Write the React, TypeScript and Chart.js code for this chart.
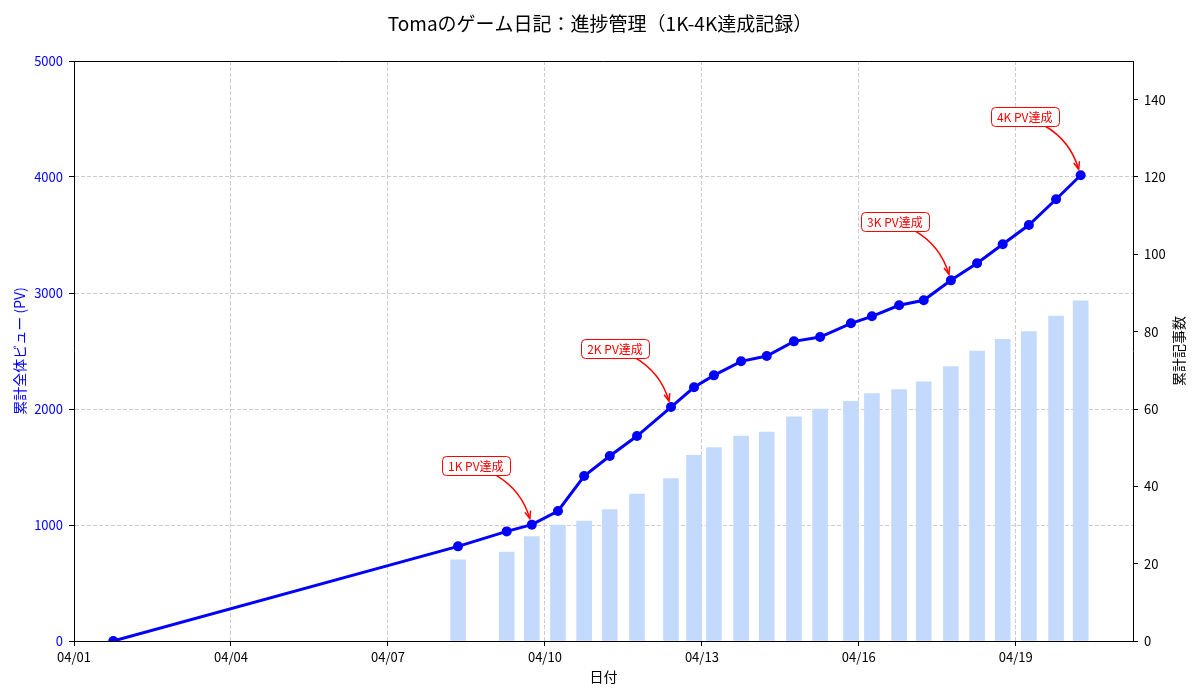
import { useEffect, useRef } from 'react';
import { Chart, registerables } from 'chart.js';

Chart.register(...registerables);

const FONT = "'Noto Sans CJK JP', sans-serif";

// 04/01 00:00 からの経過日数
const recordDays = [0.75, 7.34, 8.27, 8.75, 9.25, 9.75, 10.24, 10.76, 11.41, 11.85, 12.23, 12.75, 13.24, 13.76, 14.26, 14.85, 15.25, 15.77, 16.24, 16.76, 17.26, 17.75, 18.25, 18.77, 19.24];
const totalViews = [0, 816, 945, 1003, 1121, 1422, 1595, 1767, 2017, 2187, 2290, 2411, 2457, 2583, 2620, 2739, 2799, 2894, 2937, 3109, 3256, 3420, 3586, 3808, 4015];
const totalPosts = [0, 21, 23, 27, 30, 31, 34, 38, 42, 48, 50, 53, 54, 58, 60, 62, 64, 65, 67, 71, 75, 78, 80, 84, 88];

const milestoneIndex = [3, 8, 19, 24];
const milestoneLabels = ['1K PV達成', '2K PV達成', '3K PV達成', '4K PV達成'];

const dateTicks = [0, 3, 6, 9, 12, 15, 18];
const dateTickLabels = ['04/01', '04/04', '04/07', '04/10', '04/13', '04/16', '04/19'];
const viewTicks = [0, 1000, 2000, 3000, 4000, 5000];
const postTicks = [0, 20, 40, 60, 80, 100, 120, 140];

const notesPlugin = {
  id: 'notes',
  afterDatasetsDraw(chart: Chart) {
    const { ctx, chartArea } = chart;
    ctx.save();
    // top frame line
    ctx.strokeStyle = '#000';
    ctx.lineWidth = 1;
    ctx.beginPath();
    ctx.moveTo(chartArea.left, Math.round(chartArea.top) + 0.5);
    ctx.lineTo(chartArea.right, Math.round(chartArea.top) + 0.5);
    ctx.stroke();

    const meta = chart.getDatasetMeta(0);
    ctx.font = `12px ${FONT}`;
    milestoneIndex.forEach((idx, k) => {
      const pt = meta.data[idx];
      const px = pt.x;
      const py = pt.y;
      const cx = px - 56;
      const cy = py - 59;
      const label = milestoneLabels[k];
      const w = ctx.measureText(label).width + 12;
      const h = 19;

      // curved arrow
      const sx = cx + 20;
      const sy = cy + h / 2;
      const ex = px - 2;
      const ey = py - 6;
      const dx = ex - sx;
      const dy = ey - sy;
      const qx = (sx + ex) / 2 + 0.2 * dy;
      const qy = (sy + ey) / 2 - 0.2 * dx;
      ctx.strokeStyle = '#ff0000';
      ctx.lineWidth = 1.5;
      ctx.beginPath();
      ctx.moveTo(sx, sy);
      ctx.quadraticCurveTo(qx, qy, ex, ey);
      ctx.stroke();
      const ang = Math.atan2(ey - qy, ex - qx);
      ctx.beginPath();
      ctx.moveTo(ex - 8 * Math.cos(ang - 0.38), ey - 8 * Math.sin(ang - 0.38));
      ctx.lineTo(ex, ey);
      ctx.lineTo(ex - 8 * Math.cos(ang + 0.38), ey - 8 * Math.sin(ang + 0.38));
      ctx.stroke();

      // label box
      ctx.fillStyle = '#fff';
      ctx.strokeStyle = '#ff0000';
      ctx.lineWidth = 1;
      ctx.beginPath();
      ctx.roundRect(Math.round(cx - w / 2) + 0.5, Math.round(cy - h / 2) + 0.5, Math.round(w), h, 4);
      ctx.fill();
      ctx.stroke();
      ctx.fillStyle = '#ff0000';
      ctx.textAlign = 'center';
      ctx.textBaseline = 'middle';
      ctx.fillText(label, cx, cy + 1);
    });
    ctx.restore();
  },
  afterDraw(chart: Chart) {
    const { ctx } = chart;
    ctx.save();
    ctx.translate(1179, 351);
    ctx.rotate(-Math.PI / 2);
    ctx.font = `14px ${FONT}`;
    ctx.fillStyle = '#000';
    ctx.textAlign = 'center';
    ctx.textBaseline = 'middle';
    ctx.fillText('累計記事数', 0, 0);
    ctx.restore();
  }
};

export default function App() {
  const canvasRef = useRef<HTMLCanvasElement>(null);

  useEffect(() => {
    document.body.style.margin = '0';
    if (!canvasRef.current) return;
    const grid = { color: '#cccccc', tickColor: '#000', tickLength: 5, lineWidth: 1 };
    const border = { color: '#000', width: 1, dash: [4, 2] };

    const chart = new Chart(canvasRef.current, {
      type: 'line',
      data: {
        datasets: [
          {
            type: 'line',
            label: '累計全体ビュー',
            data: recordDays.map((d, i) => ({ x: d, y: totalViews[i] })),
            borderColor: '#0000ff',
            backgroundColor: '#0000ff',
            borderWidth: 3,
            pointRadius: 5,
            pointBorderWidth: 0,
            tension: 0,
            yAxisID: 'y',
            order: 0
          },
          {
            type: 'bar',
            label: '累計記事数',
            data: recordDays.map((d, i) => ({ x: d, y: totalPosts[i] })),
            backgroundColor: '#c4dafc',
            barThickness: 15,
            yAxisID: 'y2',
            order: 1
          }
        ]
      },
      options: {
        responsive: false,
        animation: false,
        layout: { padding: 0 },
        plugins: {
          legend: { display: false },
          tooltip: { enabled: false },
          title: {
            display: true,
            text: 'Tomaのゲーム日記：進捗管理（1K-4K達成記録）',
            color: '#000',
            font: { family: FONT, size: 19, weight: 'normal' },
            padding: { top: 12.6, bottom: 25.6 }
          }
        },
        scales: {
          x: {
            type: 'linear',
            min: 0,
            max: 20.24,
            offset: false,
            grid: { ...grid, offset: false },
            border,
            afterBuildTicks: (s: any) => { s.ticks = dateTicks.map((v) => ({ value: v })); },
            afterFit: (s: any) => { s.height = 59; },
            ticks: {
              color: '#000',
              padding: 3,
              maxRotation: 0,
              font: { family: FONT, size: 13 },
              callback: (v: any) => dateTickLabels[dateTicks.indexOf(Number(v))] ?? ''
            },
            title: {
              display: true,
              text: '日付',
              color: '#000',
              font: { family: FONT, size: 14 },
              padding: { top: 0, bottom: 14.6 }
            }
          },
          y: {
            position: 'left',
            min: 0,
            max: 5000,
            grid,
            border,
            afterBuildTicks: (s: any) => { s.ticks = viewTicks.map((v) => ({ value: v })); },
            afterFit: (s: any) => { s.width = 74; },
            ticks: {
              color: '#0000ff',
              padding: 6,
              font: { family: FONT, size: 13 },
              callback: (v: any) => String(v)
            },
            title: {
              display: true,
              text: '累計全体ビュー (PV)',
              color: '#0000ff',
              font: { family: FONT, size: 14 },
              padding: { top: 11.6, bottom: 0 }
            }
          },
          y2: {
            position: 'right',
            min: 0,
            max: 150,
            grid: { ...grid, drawOnChartArea: false },
            border: { color: '#000', width: 1 },
            afterBuildTicks: (s: any) => { s.ticks = postTicks.map((v) => ({ value: v })); },
            afterFit: (s: any) => { s.width = 67; },
            ticks: {
              color: '#000',
              padding: 6,
              font: { family: FONT, size: 13 },
              callback: (v: any) => String(v)
            }
          }
        }
      },
      plugins: [notesPlugin]
    });

    return () => {
      chart.destroy();
    };
  }, []);

  return (
    <div style={{ width: 1200, height: 700, background: '#fff' }}>
      <canvas ref={canvasRef} width={1200} height={700}></canvas>
    </div>
  );
}
